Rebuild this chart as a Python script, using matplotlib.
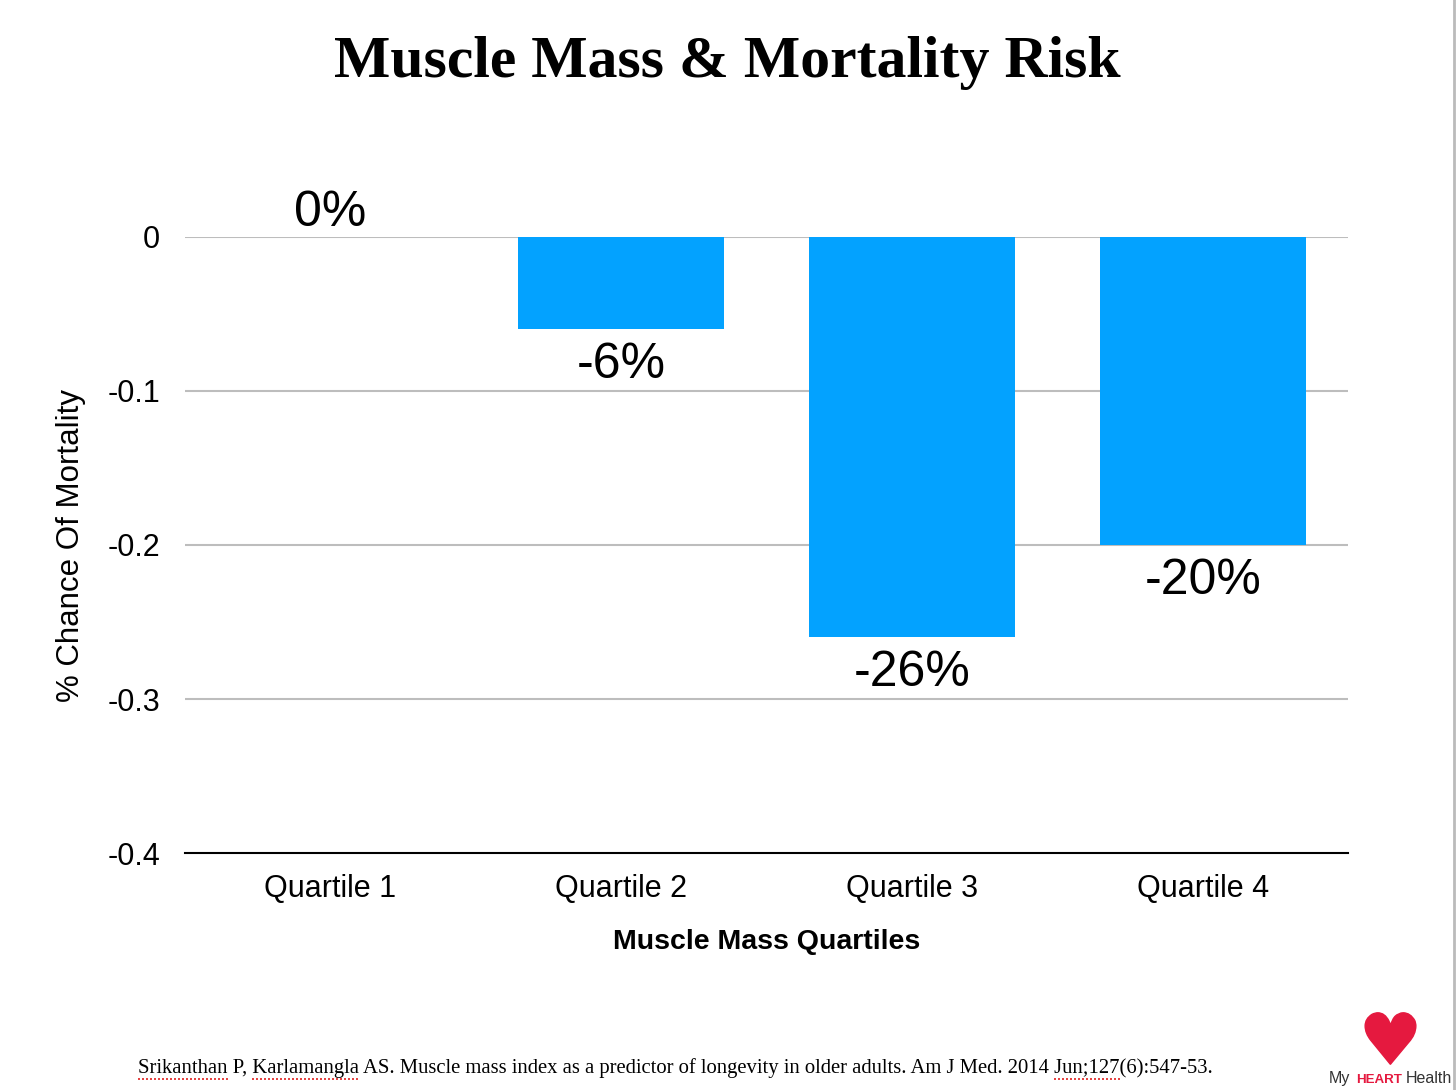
import matplotlib.pyplot as plt
from matplotlib.lines import Line2D

quartiles = ['Quartile 1', 'Quartile 2', 'Quartile 3', 'Quartile 4']
mortality = [0.0, -0.06, -0.26, -0.20]
labels = ['0%', '-6%', '-26%', '-20%']
yticks = [0, -0.1, -0.2, -0.3, -0.4]
ytick_labels = ['0', '-0.1', '-0.2', '-0.3', '-0.4']

citation = ('Srikanthan P, Karlamangla AS. Muscle mass index as a predictor of longevity '
            'in older adults. Am J Med. 2014 Jun;127(6):547-53.')
flagged = ['Srikanthan', 'Karlamangla', 'Jun;127']

W, H = 1456, 1090
plt.rcParams['font.family'] = ['Liberation Sans', 'DejaVu Sans']

fig = plt.figure(figsize=(W / 100, H / 100), dpi=100)
ax = fig.add_axes([0.127, 0.2174, 0.799, 0.5652])

x = list(range(len(quartiles)))
ax.bar(x, mortality, width=0.71, color='#03A2FF', zorder=3)

ax.set_xlim(-0.5, 3.5)
ax.set_ylim(-0.4, 0)
ax.set_yticks(yticks)
ax.set_yticklabels(ytick_labels, fontsize=22)
ax.set_xticks(x)
ax.set_xticklabels(quartiles, fontsize=22)
ax.tick_params(axis='y', length=0, pad=18)
ax.tick_params(axis='x', length=0, pad=15)

for yv in yticks[:-1]:
    ax.axhline(yv, color='#BDBDBD', lw=1.5, zorder=1)
for s in ['top', 'right', 'left']:
    ax.spines[s].set_visible(False)
ax.spines['bottom'].set_color('black')
ax.spines['bottom'].set_linewidth(1.5)

for xi, v, lab in zip(x, mortality, labels):
    if v >= 0:
        ax.annotate(lab, (xi, v), xytext=(0, 8), textcoords='offset points',
                    ha='center', va='baseline', fontsize=36, annotation_clip=False)
    else:
        ax.annotate(lab, (xi, v), xytext=(0, -9), textcoords='offset points',
                    ha='center', va='top', fontsize=36, annotation_clip=False)

ax.set_xlabel('Muscle Mass Quartiles', fontsize=20.5, fontweight='bold', labelpad=18)
ax.set_ylabel('% Chance Of Mortality', fontsize=22.5, labelpad=15)

fig.text(0.4993, 1 - 77 / H, 'Muscle Mass & Mortality Risk', ha='center', va='baseline',
         fontsize=43, fontweight='bold', family='Liberation Serif')

# citation with red spell-check underlines
cfs = 14.85
cx, cy = 138, 1073
fig.text(cx / W, 1 - cy / H, citation, ha='left', va='baseline',
         fontsize=cfs, family='Liberation Serif')
fig.canvas.draw()
r = fig.canvas.get_renderer()


def text_width(s):
    t = fig.text(0, 0, s, fontsize=cfs, family='Liberation Serif')
    w = t.get_window_extent(r).width
    t.remove()
    return w


for word in flagged:
    i = citation.index(word)
    x0 = cx + text_width(citation[:i])
    x1 = x0 + text_width(word)
    fig.add_artist(Line2D([x0 / W, x1 / W], [1 - (cy + 6) / H] * 2, color='#E0201F',
                          lw=1.2, ls=(0, (1.2, 1.2)), transform=fig.transFigure))

# logo
fig.add_artist(Line2D([1390 / W], [1 - 1038 / H], marker='$\u2665$', markersize=37,
                      color='#E5193F', transform=fig.transFigure))
fig.text(1329 / W, 1 - 1083 / H, 'My', ha='left', va='baseline', fontsize=11.5, color='#333333')
fig.text(1356 / W, 1 - 1083 / H, 'HEART', ha='left', va='baseline', fontsize=9.6,
         color='#E5193F', fontweight='bold')
fig.text(1452 / W, 1 - 1083 / H, 'Health', ha='right', va='baseline', fontsize=11.5,
         color='#333333')

# right border
fig.add_artist(Line2D([1453.5 / W, 1453.5 / W], [0, 1], color='#BBBBBB', lw=2,
                      transform=fig.transFigure))

fig.savefig('out.png', dpi=100, facecolor='white')
